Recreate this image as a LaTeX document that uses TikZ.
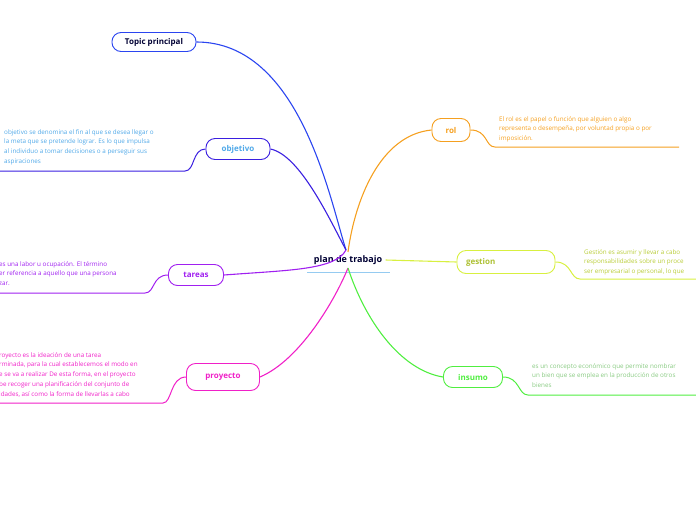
\documentclass[tikz,border=0pt]{standalone}
\usepackage{fontspec}
\setmainfont{Open Sans}
\begin{document}
\begin{tikzpicture}[x=1pt,y=-1pt,
  box/.style={draw,rounded corners=9pt,line width=0.9pt,minimum height=21pt,font=\fontsize{8}{9}\selectfont\bfseries},
  desc/.style={anchor=north west,align=left,font=\fontsize{6.3}{9.8}\selectfont,inner sep=0pt},
  br/.style={line width=1.1pt}]
\useasboundingbox (0,0) rectangle (696,520);
\clip (0,0) rectangle (696,520);
\definecolor{cblue}{HTML}{2B45F0}
\definecolor{cviol}{HTML}{3A1FE0}
\definecolor{clb}{HTML}{4FA8E8}
\definecolor{cpur}{HTML}{A020F0}
\definecolor{cmag}{HTML}{F020C8}
\definecolor{cor}{HTML}{F5A020}
\definecolor{cyg}{HTML}{D8F040}
\definecolor{cgr}{HTML}{50EE40}
\node[font=\fontsize{9}{10}\selectfont\bfseries,text=black!80!blue] (c) at (348,260) {plan de trabajo};
\draw[clb!60,line width=0.8pt] (307,272) -- (390,272);
\coordinate (cc) at (346,250);
\coordinate (cs) at (348,268);
\node[box,draw=cblue,minimum width=84pt,minimum height=19pt,text=black!80!blue] (tp) at (154,42) {Topic principal};
\node[box,draw=cviol,text=clb,minimum width=64pt] (ob) at (238,149) {objetivo};
\node[box,draw=cpur,text=cpur,minimum width=55pt] (ta) at (196,275) {tareas};
\node[box,draw=cmag,text=cmag,minimum width=73pt,minimum height=27pt] (pr) at (223,377) {proyecto};
\node[box,draw=cor,text=cor,minimum width=38pt,minimum height=23pt] (ro) at (451,130) {rol};
\node[box,draw=cyg,text=cyg!80!black,minimum width=98pt,minimum height=23pt,text width=80pt,align=left] (ge) at (506,262) {gestion};
\node[box,draw=cgr,text=cgr,minimum width=59pt] (in) at (473,377) {insumo};
\draw[br,cblue] (tp.east) .. controls (300,42) and (330,200) .. (cc);
\draw[br,cviol] (ob.east) .. controls (300,155) and (330,220) .. (cc);
\draw[br,cpur] (ta.east) .. controls (290,270) and (335,270) .. (cc);
\draw[br,cmag] (pr.east) .. controls (300,360) and (335,300) .. (cs);
\draw[br,cor] (ro.west) .. controls (380,135) and (355,200) .. (c.north);
\draw[br,cyg] (ge.west) -- (c.east);
\draw[br,cgr] (in.west) .. controls (400,370) and (365,320) .. (cs);
\draw[cviol,line width=1pt] (0,171) -- (185,171) .. controls (195,171) and (192,149) .. (ob.west);
\node[desc,text=clb] at (4,129) {objetivo se denomina el fin al que se desea llegar o\\la meta que se pretende lograr. Es lo que impulsa\\al individuo a tomar decisiones o a perseguir sus\\aspiraciones};
\draw[cpur,line width=1pt] (0,293) -- (145,293) .. controls (155,293) and (152,275) .. (ta.west);
\node[desc,text=cpur] at (-1,261) {es una labor u ocupación. El término\\er referencia a aquello que una persona\\zar.};
\draw[cmag,line width=1pt] (0,403) -- (163,403) .. controls (172,403) and (170,377) .. (pr.west);
\node[desc,text=cmag] at (-1,352) {royecto es la ideación de una tarea\\rminada, para la cual establecemos el modo en\\e se va a realizar De esta forma, en el proyecto\\be recoger una planificación del conjunto de\\idades, así como la forma de llevarlas a cabo};
\draw[cor,line width=1pt] (ro.east) .. controls (488,130) and (485,147) .. (495,147) -- (679,147);
\node[desc,text=cor] at (499,116) {El rol es el papel o función que alguien o algo\\representa o desempeña, por voluntad propia o por\\imposición.};
\draw[cyg,line width=1pt] (ge.east) .. controls (572,262) and (570,279) .. (580,279) -- (696,279);
\node[desc,text=cyg!85!black] at (584,249) {Gestión es asumir y llevar a cabo\\responsabilidades sobre un proce\\ser empresarial o personal, lo que};
\draw[cgr,line width=1pt] (in.east) .. controls (520,377) and (518,395) .. (528,395) -- (696,395);
\node[desc,text=cgr!70!black!60] at (532,363) {es un concepto económico que permite nombrar\\un bien que se emplea en la producción de otros\\bienes};
\end{tikzpicture}
\end{document}
